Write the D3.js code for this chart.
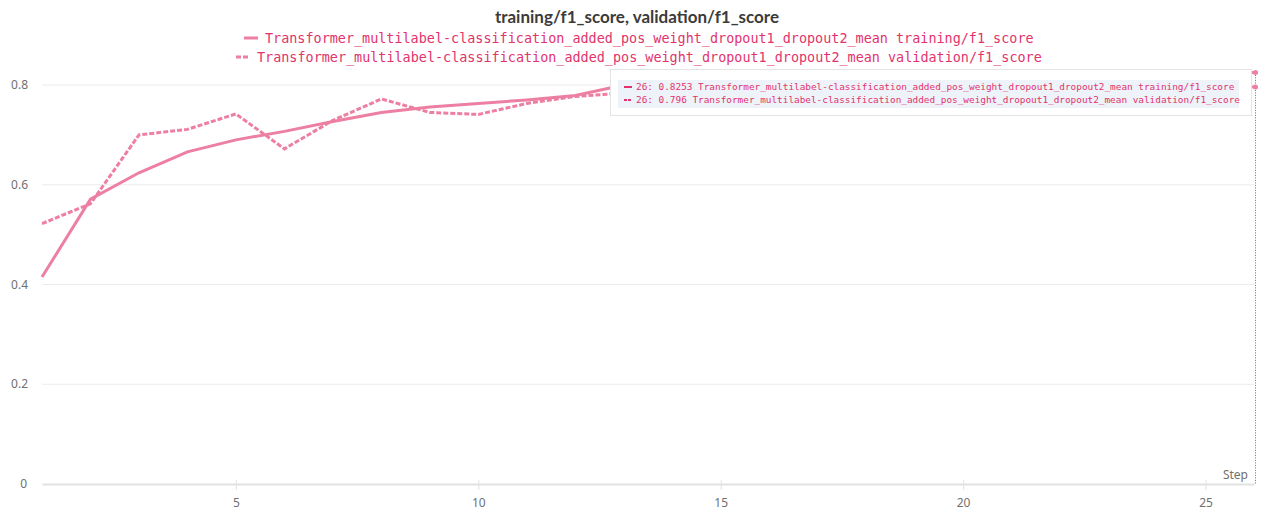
<!DOCTYPE html>
<html lang="en">
<head>
    <meta charset="UTF-8">
    <title>training/f1_score, validation/f1_score</title>
    <script src="https://d3js.org/d3.v7.min.js"></script>
    <style>
        body { margin: 0; background: #fff; }
        svg { display: block; }
    </style>
</head>
<body>
    <div id="chart"></div>

    <script>
        // data (steps 14-25 are hidden behind the tooltip, estimated)
        var steps = d3.range(1, 27);
        var trainF1 = [0.415, 0.571, 0.624, 0.666, 0.690, 0.707, 0.727, 0.745, 0.756, 0.763,
                       0.770, 0.779, 0.800, 0.803, 0.806, 0.808, 0.810, 0.812, 0.814, 0.815,
                       0.817, 0.818, 0.820, 0.821, 0.823, 0.8253];
        var valF1 = [0.522, 0.562, 0.700, 0.711, 0.742, 0.672, 0.729, 0.772, 0.745, 0.741,
                     0.763, 0.777, 0.784, 0.790, 0.785, 0.795, 0.790, 0.798, 0.792, 0.800,
                     0.794, 0.797, 0.799, 0.793, 0.800, 0.796];
        var yTicks = [0, 0.2, 0.4, 0.6, 0.8];
        var xTicks = [5, 10, 15, 20, 25];
        var runName = "Transformer_multilabel-classification_added_pos_weight_dropout1_dropout2_mean";
        var seriesNames = [runName + " training/f1_score", runName + " validation/f1_score"];

        var W = 1265, H = 523;
        var lineColor = "#ec7fa2";
        var textColor = "#e2336c";
        var mono = "'DejaVu Sans Mono', 'Liberation Mono', monospace";

        var svg = d3.select("#chart").append("svg")
            .attr("width", W)
            .attr("height", H);

        var x = d3.scaleLinear().domain([1, 26]).range([42, 1254]);
        var y = d3.scaleLinear().domain([0, 0.8]).range([484, 85]);

        // title
        svg.append("text")
            .attr("x", 637)
            .attr("y", 23)
            .attr("text-anchor", "middle")
            .style("font-family", "Lato, 'Noto Sans', sans-serif")
            .style("font-weight", "bold")
            .style("font-size", "17px")
            .style("fill", "#3b3b3b")
            .text("training/f1_score, validation/f1_score");

        // legend
        var legendRows = [
            { dash: null, sx: 244, tx: 265, y: 40 },
            { dash: "5,2", sx: 236, tx: 257, y: 59 }
        ];
        legendRows.forEach(function(r, i) {
            svg.append("line")
                .attr("x1", r.sx).attr("x2", r.sx + 14)
                .attr("y1", r.y - 2).attr("y2", r.y - 2)
                .attr("stroke", lineColor)
                .attr("stroke-width", 3)
                .attr("stroke-dasharray", r.dash);
            svg.append("text")
                .attr("x", r.tx)
                .attr("y", r.y + 3)
                .style("font-family", mono)
                .style("font-size", "13.45px")
                .style("fill", textColor)
                .text(seriesNames[i]);
        });

        // grid + y labels
        var g = svg.append("g");
        g.selectAll(".grid")
            .data(yTicks.filter(function(d) { return d > 0; }))
            .enter().append("line")
            .attr("x1", 42).attr("x2", 1254)
            .attr("y1", function(d) { return y(d); })
            .attr("y2", function(d) { return y(d); })
            .attr("stroke", "#ececec")
            .attr("stroke-width", 1);

        g.selectAll(".ylab")
            .data(yTicks)
            .enter().append("text")
            .attr("x", function(d) { return d === 0 ? 27 : 28; })
            .attr("y", function(d) { return y(d) + 4; })
            .attr("text-anchor", "end")
            .style("font-family", "'Noto Sans', sans-serif")
            .style("font-size", "12px")
            .style("fill", "#707070")
            .text(function(d) { return d === 0 ? "0" : d3.format(".1f")(d); });

        // x axis
        var xAxis = svg.append("g")
            .attr("transform", "translate(0,484)")
            .call(d3.axisBottom(x).tickValues(xTicks).tickSize(0).tickPadding(14).tickFormat(d3.format("d")));
        xAxis.select(".domain").attr("stroke", "#e2e2e2").attr("stroke-width", 2);
        xAxis.selectAll("text")
            .style("font-family", "'Noto Sans', sans-serif")
            .style("font-size", "12px")
            .style("fill", "#707070");
        xAxis.selectAll(".tick").append("line")
            .attr("y1", -4).attr("y2", 6)
            .attr("stroke", "#e2e2e2");

        svg.append("text")
            .attr("x", 1248)
            .attr("y", 479)
            .attr("text-anchor", "end")
            .style("font-family", "'Noto Sans', sans-serif")
            .style("font-size", "12px")
            .style("fill", "#707070")
            .text("Step");

        // lines
        var line = d3.line()
            .x(function(d, i) { return x(steps[i]); })
            .y(function(d) { return y(d); });

        svg.append("path")
            .datum(trainF1)
            .attr("d", line)
            .attr("fill", "none")
            .attr("stroke", lineColor)
            .attr("stroke-width", 3);

        svg.append("path")
            .datum(valF1)
            .attr("d", line)
            .attr("fill", "none")
            .attr("stroke", lineColor)
            .attr("stroke-width", 3)
            .attr("stroke-dasharray", "5,2");

        // hover line at last step
        var last = steps.length - 1;
        svg.append("line")
            .attr("x1", x(steps[last]) + 1.5).attr("x2", x(steps[last]) + 1.5)
            .attr("y1", y(trainF1[last])).attr("y2", 484)
            .attr("stroke", "#2f7fd6")
            .attr("stroke-width", 1)
            .attr("stroke-dasharray", "1,1.5");

        // tooltip
        var tip = svg.append("g");
        tip.append("rect")
            .attr("x", 610.5).attr("y", 69.5)
            .attr("width", 641).attr("height", 46)
            .attr("fill", "#fff")
            .attr("stroke", "#e4e4e4");
        tip.append("rect")
            .attr("x", 618).attr("y", 80)
            .attr("width", 621).attr("height", 28)
            .attr("fill", "#eef2f9");
        var tipRows = [
            { v: trainF1[last], dash: null, s: "0.8253" },
            { v: valF1[last], dash: "3,1", s: "0.796" }
        ];
        tipRows.forEach(function(r, i) {
            var ty = 87 + i * 13;
            tip.append("line")
                .attr("x1", 624).attr("x2", 632)
                .attr("y1", ty).attr("y2", ty)
                .attr("stroke", textColor)
                .attr("stroke-width", 2)
                .attr("stroke-dasharray", r.dash);
            tip.append("text")
                .attr("x", 636)
                .attr("y", ty + 3)
                .style("font-family", mono)
                .style("font-size", "9.4px")
                .style("fill", textColor)
                .text(steps[last] + ": " + r.s + " " + seriesNames[i]);
        });

        // end-point markers
        svg.selectAll(".dot")
            .data([trainF1[last], valF1[last]])
            .enter().append("circle")
            .attr("cx", x(steps[last]) + 1.5)
            .attr("cy", function(d) { return y(d); })
            .attr("r", 2.5)
            .attr("fill", lineColor);
    </script>
</body>
</html>
